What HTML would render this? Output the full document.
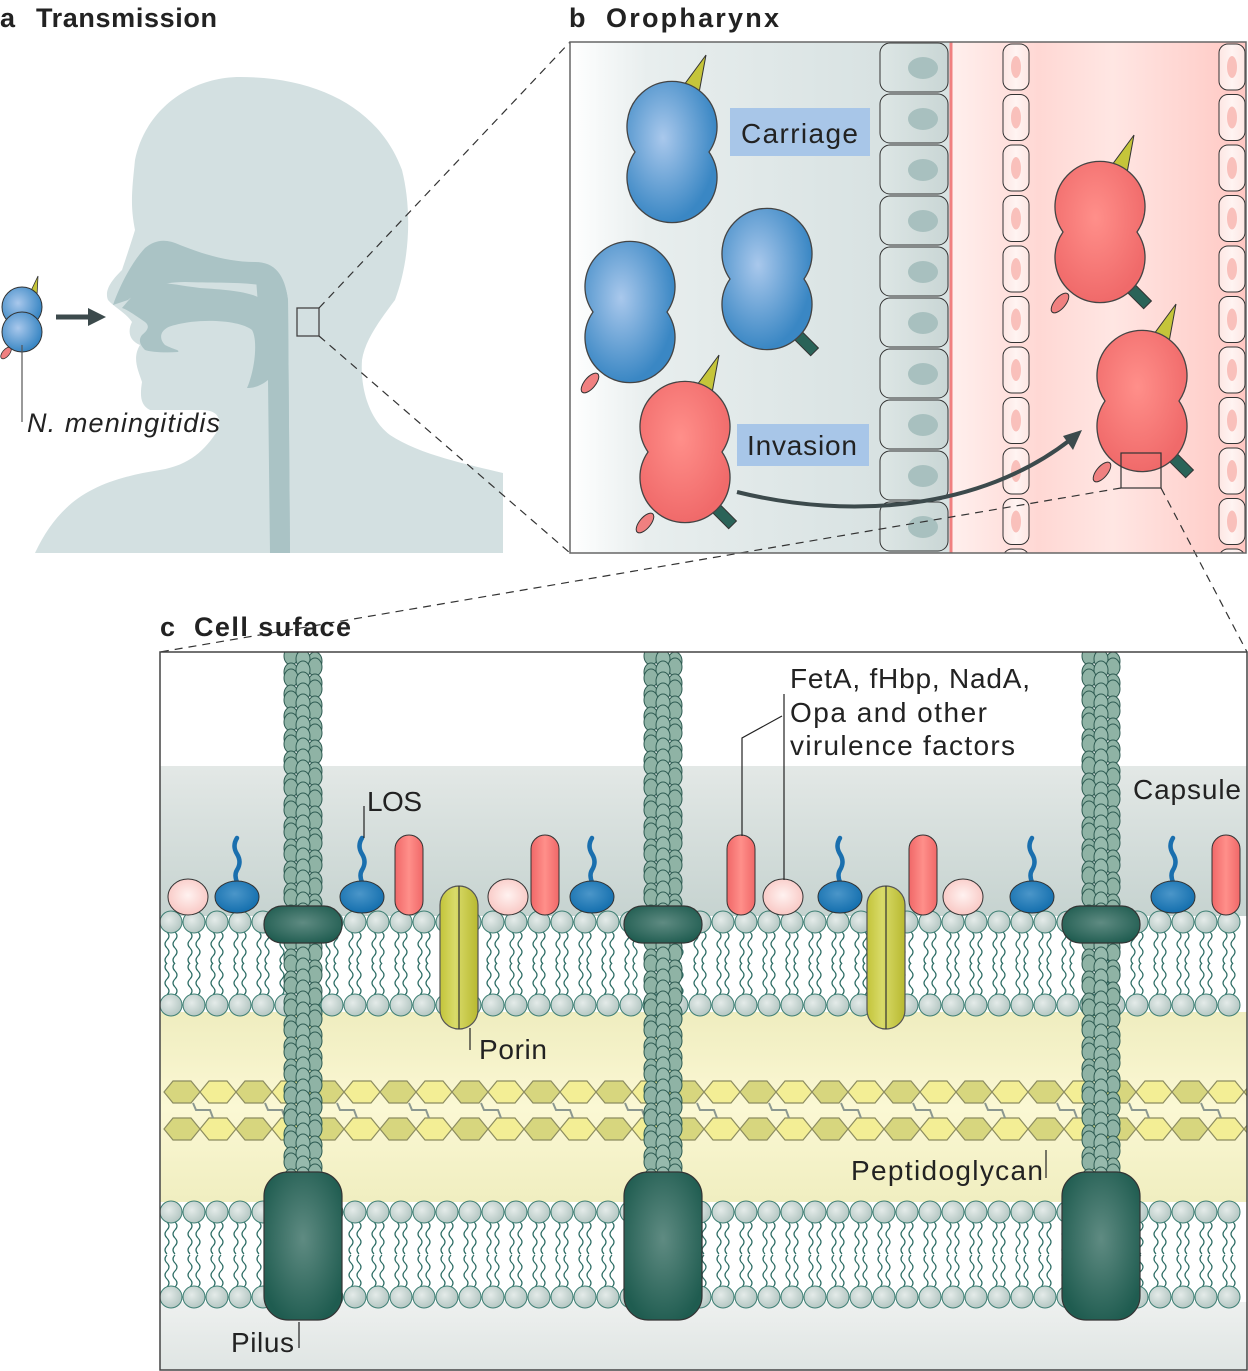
<!DOCTYPE html>
<html><head><meta charset="utf-8"><style>
html,body{margin:0;padding:0;background:#fff}
svg{display:block}
text{font-family:"Liberation Sans","DejaVu Sans",sans-serif}
</style></head><body>
<svg id="s" xmlns="http://www.w3.org/2000/svg" width="1248" height="1371" viewBox="0 0 1248 1371">
<defs>
<radialGradient id="gb" cx="0.4" cy="0.4" r="0.6"><stop offset="0" stop-color="#a9c8ec"/><stop offset="1" stop-color="#3a87c4"/></radialGradient>
<radialGradient id="gr" cx="0.45" cy="0.4" r="0.6"><stop offset="0" stop-color="#ff8f8a"/><stop offset="1" stop-color="#f06a6a"/></radialGradient>
<radialGradient id="gpk" cx="0.5" cy="0.45" r="0.6"><stop offset="0" stop-color="#fff2f0"/><stop offset="1" stop-color="#f8c4c0"/></radialGradient>
<radialGradient id="glos" cx="0.45" cy="0.4" r="0.6"><stop offset="0" stop-color="#4b96c9"/><stop offset="1" stop-color="#146fae"/></radialGradient>
<linearGradient id="gredpill" x1="0" x2="1"><stop offset="0" stop-color="#f06868"/><stop offset="0.5" stop-color="#ff8f8a"/><stop offset="1" stop-color="#f06868"/></linearGradient>
<linearGradient id="gporin" x1="0" x2="1"><stop offset="0" stop-color="#c3c43a"/><stop offset="0.4" stop-color="#d9db6a"/><stop offset="1" stop-color="#b8b930"/></linearGradient>
<radialGradient id="gdg" cx="0.5" cy="0.45" r="0.6"><stop offset="0" stop-color="#5f8b82"/><stop offset="1" stop-color="#1f5c50"/></radialGradient>
<radialGradient id="ghead" cx="0.4" cy="0.4" r="0.6"><stop offset="0" stop-color="#e4ebe9"/><stop offset="1" stop-color="#b6c8c4"/></radialGradient>
<linearGradient id="gbleft" x1="0" x2="1"><stop offset="0" stop-color="#ffffff"/><stop offset="0.25" stop-color="#e8eeee"/><stop offset="1" stop-color="#d8e2e2"/></linearGradient>
<linearGradient id="gpink" x1="0" x2="1"><stop offset="0" stop-color="#fff0ee"/><stop offset="0.3" stop-color="#ffd8d4"/><stop offset="0.55" stop-color="#ffe6e3"/><stop offset="1" stop-color="#ffc8c3"/></linearGradient>
<linearGradient id="gcap" x1="0" y1="0" x2="0" y2="1"><stop offset="0" stop-color="#e3e8e6"/><stop offset="1" stop-color="#c6d3d0"/></linearGradient>
<linearGradient id="gperi" x1="0" y1="0" x2="0" y2="1"><stop offset="0" stop-color="#efedbf"/><stop offset="0.5" stop-color="#fbf8d4"/><stop offset="1" stop-color="#f0eec0"/></linearGradient>
<linearGradient id="gbot" x1="0" y1="0" x2="0" y2="1"><stop offset="0" stop-color="#eef0ef"/><stop offset="1" stop-color="#dfe5e3"/></linearGradient>
<linearGradient id="gcell" x1="0" x2="1"><stop offset="0" stop-color="#dde6e5"/><stop offset="1" stop-color="#c9d6d5"/></linearGradient>
<linearGradient id="gendo" x1="0" x2="1"><stop offset="0" stop-color="#fde6e3"/><stop offset="0.5" stop-color="#fff4f2"/><stop offset="1" stop-color="#fde6e3"/></linearGradient>
<clipPath id="cb"><rect x="570" y="42" width="676" height="511"/></clipPath>
<clipPath id="cc"><rect x="160" y="652" width="1087" height="718"/></clipPath>
</defs>

<!-- Panel a -->
<text x="0" y="27" font-size="27" font-weight="bold" fill="#222">a</text>
<text x="36" y="27" font-size="27" font-weight="bold" fill="#222" textLength="181">Transmission</text>
<path d="M35,553 C60,500 95,480 160,470 C190,465 205,450 218,430 C222,415 215,410 200,410 L150,410 C140,405 140,395 142,382 C138,370 132,358 140,345 C128,340 128,330 132,322 C125,312 115,308 108,300 C104,290 112,280 122,270 C128,252 132,240 135,230 C130,205 132,190 135,160 C145,110 190,77 240,77 C320,77 380,110 402,170 C412,210 410,260 395,300 C380,320 365,340 362,360 C360,390 370,420 390,435 C420,455 470,465 503,473 L503,553 Z" fill="#d3e0e1"/>
<path d="M113,305 C120,285 132,262 145,248 C155,240 165,238 180,245 C205,255 230,262 255,262 C275,262 285,275 288,300 L290,553 L270,553 L268,380 C262,385 255,388 247,388 C255,370 258,340 252,330 C240,320 200,318 175,325 C160,328 158,338 165,345 C175,350 180,350 178,352 C165,353 150,352 145,350 C140,345 138,340 142,335 C148,330 150,326 145,322 C135,315 128,310 122,308 C132,296 138,290 145,285 C158,280 175,285 200,288 C230,290 260,292 268,305 C272,300 270,290 260,285 C240,282 210,283 185,282 C160,282 140,290 128,300 Z" fill="#aac3c5"/>
<path d="M255,265 C275,265 286,280 288,300 L290,553 L272,553 L270,360 C268,340 264,320 258,305 Z" fill="#aac3c5"/>
<rect x="297" y="308" width="22" height="28" fill="none" stroke="#444" stroke-width="1.3"/>
<line x1="319" y1="308" x2="570" y2="42" stroke="#333" stroke-dasharray="8,6" stroke-width="1.2"/>
<line x1="319" y1="336" x2="570" y2="553" stroke="#333" stroke-dasharray="8,6" stroke-width="1.2"/>
<polygon points="29,295 37,296 38,276" fill="#c5c53a" stroke="#333" stroke-width="0.8"/>
<ellipse cx="6" cy="353" rx="3.5" ry="7" transform="rotate(40 6 353)" fill="#f08080" stroke="#333" stroke-width="0.8"/>
<circle cx="22" cy="307" r="20" fill="url(#gb)" stroke="#333" stroke-width="1"/>
<circle cx="22" cy="332" r="20" fill="url(#gb)" stroke="#333" stroke-width="1"/>
<line x1="22" y1="345" x2="22" y2="422" stroke="#555" stroke-width="1.2"/>
<line x1="56" y1="317" x2="92" y2="317" stroke="#3c4a4c" stroke-width="5"/>
<polygon points="88,308 106,317 88,326" fill="#3c4a4c"/>
<text x="27" y="432" font-size="27" font-style="italic" fill="#222" textLength="193">N. meningitidis</text>

<!-- Panel b -->
<text x="569" y="27" font-size="27" font-weight="bold" fill="#222">b</text>
<text x="606" y="27" font-size="27" font-weight="bold" fill="#222" textLength="173">Oropharynx</text>
<g clip-path="url(#cb)">
<rect x="570" y="42" width="310" height="511" fill="url(#gbleft)"/>
<rect x="880" y="42" width="70" height="511" fill="#d8e2e2"/>
<rect x="950" y="42" width="296" height="511" fill="url(#gpink)"/>
<line x1="951" y1="42" x2="951" y2="553" stroke="#f08080" stroke-width="3"/>
<g id="epi"></g>
<g id="bugs"></g>
</g>
<rect x="730" y="108" width="140" height="48" fill="#a8c6e8"/>
<text x="741" y="143" font-size="28" fill="#222" textLength="117">Carriage</text>
<rect x="737" y="424" width="132" height="42" fill="#a8c6e8"/>
<text x="747" y="455" font-size="28" fill="#222" textLength="110">Invasion</text>
<path d="M737,492 C850,520 980,510 1070,440" fill="none" stroke="#3c4a4c" stroke-width="4"/>
<polygon points="1082,430 1063,436 1073,450" fill="#3c4a4c"/>
<rect x="1121" y="453" width="40" height="35" fill="none" stroke="#333" stroke-width="1.2"/>
<line x1="1121" y1="488" x2="160" y2="652" stroke="#333" stroke-dasharray="8,6" stroke-width="1.2"/>
<line x1="1161" y1="488" x2="1247" y2="652" stroke="#333" stroke-dasharray="8,6" stroke-width="1.2"/>
<rect x="570" y="42" width="676" height="511" fill="none" stroke="#666" stroke-width="1.5"/>

<!-- Panel c -->
<text x="160" y="636" font-size="27" font-weight="bold" fill="#222">c</text>
<text x="194" y="636" font-size="27" font-weight="bold" fill="#222" textLength="157">Cell suface</text>
<g clip-path="url(#cc)">
<rect x="160" y="766" width="1087" height="150" fill="url(#gcap)"/>
<rect x="160" y="1012" width="1087" height="190" fill="url(#gperi)"/>
<rect x="160" y="1302" width="1087" height="68" fill="url(#gbot)"/>
<g id="mem"></g>
<g id="pg"></g>
<g id="surf"></g>
<g id="pili"></g>
</g>
<rect x="160" y="652" width="1087" height="718" fill="none" stroke="#444" stroke-width="1.5"/>
<g fill="#222" font-size="28">
<text x="367" y="811" textLength="55">LOS</text>
<text x="479" y="1059" textLength="68">Porin</text>
<text x="851" y="1180" textLength="192">Peptidoglycan</text>
<text x="231" y="1352" textLength="63">Pilus</text>
<text x="1133" y="799" textLength="108">Capsule</text>
<text x="790" y="688" textLength="240">FetA, fHbp, NadA,</text>
<text x="790" y="722" textLength="197">Opa and other</text>
<text x="790" y="755" textLength="225">virulence factors</text>
</g>
<g stroke="#222" stroke-width="1.2" fill="none">
<polyline points="364,838 364,806"/>
<polyline points="470,1028 470,1050"/>
<polyline points="1046,1150 1046,1178"/>
<polyline points="299,1322 299,1348"/>
<polyline points="742,836 742,738 782,716"/>
<polyline points="784,880 784,694"/>
</g>
</svg>
<script>
var NS="http://www.w3.org/2000/svg";
function el(p,t,a){var e=document.createElementNS(NS,t);for(var k in a)e.setAttribute(k,a[k]);p.appendChild(e);return e;}
var epi=document.getElementById('epi');
for(var i=0;i<11;i++){var y=42+i*51;
 el(epi,'rect',{x:880,y:y+1,width:68,height:49,rx:10,fill:'url(#gcell)',stroke:'#333','stroke-width':1});
 el(epi,'ellipse',{cx:923,cy:y+26,rx:15,ry:11,fill:'#a8c0bf'});}
for(var i=0;i<11;i++){var y=42+i*50.5;
 [1016,1232].forEach(function(x){
 el(epi,'rect',{x:x-13,y:y+2,width:26,height:46,rx:9,fill:'url(#gendo)',stroke:'#333','stroke-width':1});
 el(epi,'ellipse',{cx:x,cy:y+25,rx:5,ry:11,fill:'#f9c0bb'});});}
var bugs=document.getElementById('bugs');
function bug(cx,cy,col,pil,opa,hair){
 if(hair)el(bugs,'polygon',{points:(cx+12)+','+(cy-42)+' '+(cx+27)+','+(cy-34)+' '+(cx+34)+','+(cy-72),fill:'#c5c53a',stroke:'#333','stroke-width':1});
 if(pil)el(bugs,'rect',{x:cx+33,y:cy+76,width:11,height:26,fill:'#2a6358',stroke:'#333','stroke-width':1,transform:'rotate(-45 '+(cx+38)+' '+(cy+89)+')'});
 if(opa)el(bugs,'ellipse',{cx:cx-40,cy:cy+96,rx:5.5,ry:12,fill:'#f08080',stroke:'#333','stroke-width':1,transform:'rotate(40 '+(cx-40)+' '+(cy+96)+')'});
 var g=col=='b'?'url(#gb)':'url(#gr)';
 el(bugs,'path',{d:'M'+(cx-37)+','+(cy+25)+' A45,45 0 1 1 '+(cx+37)+','+(cy+25)+' A45,45 0 1 1 '+(cx-37)+','+(cy+25)+' Z',fill:g,stroke:'#444','stroke-width':1.3});
}
bug(672,127,'b',0,0,1);
bug(630,287,'b',0,1,0);
bug(767,254,'b',1,0,0);
bug(685,427,'r',1,1,1);
bug(1100,207,'r',1,1,1);
bug(1142,376,'r',1,1,1);
var mem=document.getElementById('mem');
function bilayer(yt,yb){
 for(var x=171;x<1250;x+=23){
  for(var k=-1;k<=1;k+=2){
   var xx=x+k*4;
   var d1='M'+xx+','+(yt+10);for(var j=0;j<4;j++){d1+=' q'+(j%2?-4:4)+',4 0,8';}
   el(mem,'path',{d:d1,fill:'none',stroke:'#2f6e66','stroke-width':1.2});
   var d2='M'+xx+','+(yb-10);for(var j=0;j<4;j++){d2+=' q'+(j%2?-4:4)+',-4 0,-8';}
   el(mem,'path',{d:d2,fill:'none',stroke:'#2f6e66','stroke-width':1.2});
  }
 }
 for(var x=171;x<1250;x+=23){
  el(mem,'circle',{cx:x,cy:yt,r:11,fill:'url(#ghead)',stroke:'#3e7f74','stroke-width':1});
  el(mem,'circle',{cx:x,cy:yb,r:11,fill:'url(#ghead)',stroke:'#3e7f74','stroke-width':1});
 }
}
bilayer(922,1005);
bilayer(1212,1297);
var pg=document.getElementById('pg');
function hexrow(y,off){for(var i=0;i<31;i++){var x=160+off+i*36;
 var c=(i%2)?'#f3ee95':'#d7d67e';
 el(pg,'polygon',{points:(x)+','+y+' '+(x+9)+','+(y-11)+' '+(x+27)+','+(y-11)+' '+(x+36)+','+y+' '+(x+27)+','+(y+11)+' '+(x+9)+','+(y+11),fill:c,stroke:'#8c8c60','stroke-width':1.2});}}
hexrow(1092,4);hexrow(1129,4);
for(var i=0;i<15;i++){var x=193+i*72;
 el(pg,'polyline',{points:x+',1103 '+(x+3)+',1110 '+(x+17)+',1110 '+(x+20)+',1118',fill:'none',stroke:'#8c9890','stroke-width':2});}
var s=document.getElementById('surf');
[188,508,783,963].forEach(function(x){el(s,'ellipse',{cx:x,cy:897,rx:20,ry:18,fill:'url(#gpk)',stroke:'#333','stroke-width':1});});
[237,362,592,840,1032,1173].forEach(function(x){
 el(s,'path',{d:'M'+x+',838 q-5,8 0,16 q5,8 0,16 q-3,5 0,12',fill:'none',stroke:'#1a6fae','stroke-width':4.5,'stroke-linecap':'round'});
 el(s,'ellipse',{cx:x,cy:897,rx:22,ry:16,fill:'url(#glos)',stroke:'#333','stroke-width':1});});
[409,545,741,923,1226].forEach(function(x){el(s,'rect',{x:x-14,y:835,width:28,height:80,rx:14,fill:'url(#gredpill)',stroke:'#333','stroke-width':1});});
[459,886].forEach(function(x){el(s,'rect',{x:x-19,y:886,width:38,height:143,rx:19,fill:'url(#gporin)',stroke:'#555','stroke-width':1.2});
 el(s,'line',{x1:x,y1:886,x2:x,y2:1029,stroke:'#333','stroke-width':1.2});});
var p=document.getElementById('pili');
[303,663,1101].forEach(function(cx){
 for(var y=656;y<1178;y+=11){
  var o=(Math.round((y-656)/11)%2)?4:-4;
  el(p,'ellipse',{cx:cx-12,cy:y+(o>0?5:0),rx:7,ry:9,fill:'#8fb3a5',stroke:'#2e5b52','stroke-width':1});
  el(p,'ellipse',{cx:cx+12,cy:y+(o>0?0:5),rx:7,ry:9,fill:'#8fb3a5',stroke:'#2e5b52','stroke-width':1});
  el(p,'ellipse',{cx:cx,cy:y+3,rx:7,ry:9,fill:'#97baad',stroke:'#2e5b52','stroke-width':1});
 }
 el(p,'rect',{x:cx-39,y:906,width:78,height:37,rx:18,fill:'url(#gdg)',stroke:'#333','stroke-width':1.2});
 el(p,'rect',{x:cx-39,y:1172,width:78,height:148,rx:24,fill:'url(#gdg)',stroke:'#333','stroke-width':1.2});
});
</script>
</body></html>
